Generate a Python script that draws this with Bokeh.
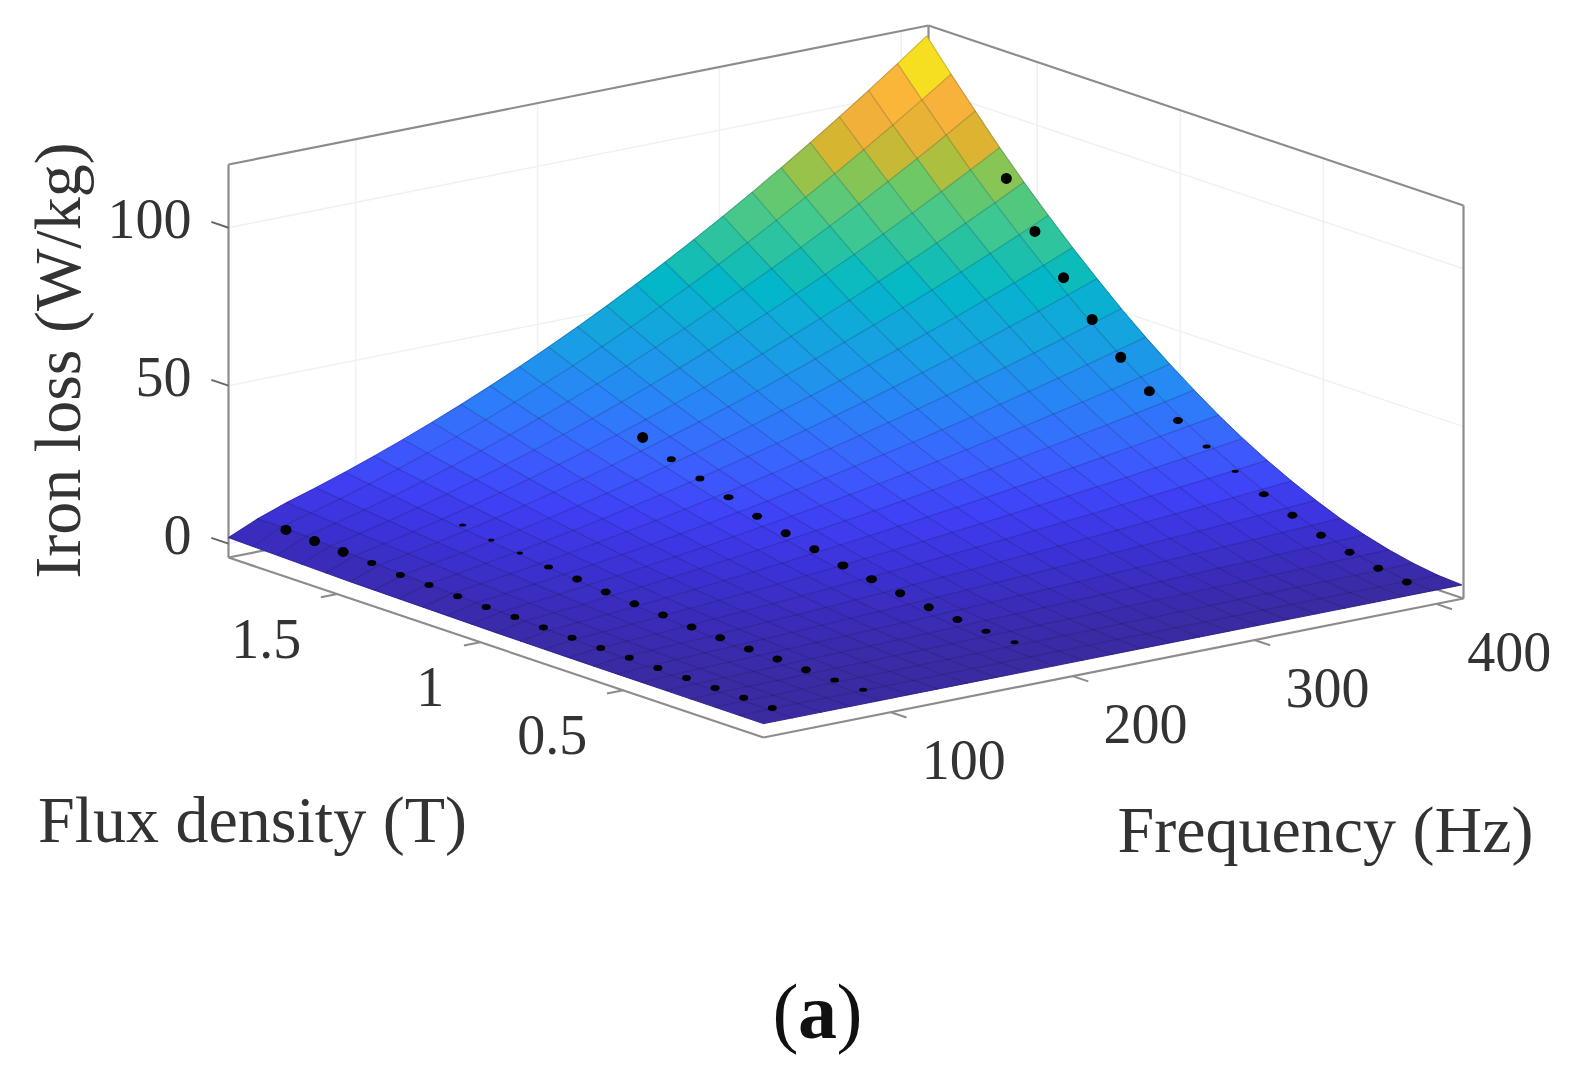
import math
import numpy as np
from bokeh.plotting import figure
from bokeh.models import Range1d
from bokeh.core.properties import value
from bokeh.embed import file_html
from bokeh.resources import INLINE

# ---------- data ----------
FREQ_GRID = [30, 46, 62, 78, 94, 110, 126, 142, 158, 174, 190, 206, 222, 238, 254, 270, 286, 302, 318, 334, 350, 366, 382, 398, 414]
FLUX_GRID = [.01, .095, .18, .265, .35, .435, .52, .605, .69, .775, .86, .945, 1.03, 1.115, 1.2, 1.285, 1.37, 1.455, 1.54, 1.625, 1.71, 1.795, 1.88]
LOSS_GRID = [
 [0,0,0,0,0,0,0,0,0,0,0,.01,.01,.01,.01,.01,.01,.01,.01,.01,.01,.01,.01,.01,.01],
 [.02,.04,.06,.08,.09,.11,.13,.15,.17,.19,.21,.23,.25,.27,.30,.32,.34,.36,.39,.41,.44,.46,.49,.52,.54],
 [.05,.13,.18,.23,.28,.33,.39,.45,.50,.57,.63,.69,.76,.82,.89,.97,1.04,1.11,1.19,1.27,1.35,1.43,1.51,1.60,1.69],
 [.06,.25,.34,.44,.54,.64,.75,.86,.98,1.10,1.22,1.35,1.48,1.62,1.76,1.90,2.05,2.20,2.35,2.51,2.67,2.84,3.01,3.18,3.36],
 [.08,.39,.54,.70,.86,1.03,1.20,1.39,1.58,1.77,1.97,2.18,2.40,2.62,2.85,3.08,3.33,3.58,3.83,4.09,4.36,4.64,4.92,5.21,5.50],
 [.09,.56,.78,1.01,1.24,1.49,1.75,2.01,2.29,2.58,2.88,3.18,3.50,3.83,4.17,4.52,4.88,5.25,5.62,6.01,6.41,6.82,7.24,7.68,8.12],
 [.1,.77,1.06,1.37,1.69,2.03,2.38,2.75,3.14,3.53,3.95,4.37,4.81,5.27,5.74,6.23,6.73,7.24,7.77,8.32,8.87,9.45,10.04,10.64,11.26],
 [.12,.98,1.37,1.77,2.19,2.63,3.09,3.57,4.07,4.59,5.13,5.69,6.27,6.87,7.49,8.12,8.78,9.46,10.16,10.88,11.62,12.38,13.15,13.95,14.77],
 [.15,1.23,1.70,2.21,2.73,3.29,3.87,4.47,5.10,5.76,6.44,7.15,7.89,8.65,9.43,10.25,11.08,11.95,12.84,13.75,14.69,15.66,16.65,17.67,18.71],
 [.2,1.49,2.07,2.69,3.33,4.01,4.72,5.47,6.24,7.05,7.89,8.77,9.67,10.61,11.58,12.59,13.62,14.69,15.79,16.93,18.09,19.29,20.52,21.79,23.08],
 [.25,1.77,2.47,3.20,3.98,4.79,5.65,6.54,7.48,8.45,9.46,10.52,11.61,12.75,13.92,15.14,16.39,17.69,19.02,20.39,21.81,23.26,24.76,26.29,27.87],
 [.3,2.09,2.90,3.77,4.69,5.65,6.66,7.73,8.84,9.99,11.20,12.46,13.76,15.11,16.51,17.96,19.46,21.00,22.60,24.24,25.93,27.67,29.46,31.30,33.18],
 [.4,2.41,3.36,4.37,5.43,6.55,7.73,8.97,10.26,11.62,13.03,14.49,16.02,17.60,19.24,20.94,22.69,24.50,26.37,28.30,30.29,32.33,34.43,36.58,38.80],
 [.5,2.75,3.84,4.99,6.22,7.51,8.86,10.29,11.78,13.34,14.96,16.66,18.42,20.24,22.14,24.10,26.13,28.23,30.39,32.63,34.93,37.29,39.73,42.23,44.80],
 [.6,3.11,4.35,5.66,7.05,8.52,10.06,11.69,13.39,15.17,17.02,18.96,20.97,23.06,25.23,27.48,29.80,32.21,34.69,37.25,39.88,42.60,45.39,48.26,51.21],
 [.7,3.50,4.89,6.37,7.94,9.60,11.35,13.18,15.11,17.13,19.24,21.43,23.72,26.10,28.56,31.12,33.76,36.49,39.32,42.23,45.23,48.33,51.51,54.78,58.14],
 [.8,3.90,5.45,7.10,8.86,10.71,12.67,14.73,16.90,19.16,21.53,24.00,26.57,29.24,32.01,34.89,37.86,40.94,44.12,47.40,50.79,54.27,57.86,61.55,65.34],
 [.9,4.31,6.03,7.87,9.82,11.88,14.06,16.36,18.77,21.29,23.93,26.69,29.55,32.54,35.64,38.85,42.18,45.62,49.18,52.85,56.63,60.53,64.55,68.68,72.92],
 [1.1,4.74,6.64,8.67,10.82,13.10,15.51,18.05,20.72,23.52,26.44,29.50,32.68,35.99,39.43,43.00,46.69,50.52,54.47,58.55,62.76,67.10,71.57,76.16,80.89],
 [1.3,5.19,7.27,9.50,11.87,14.38,17.04,19.83,22.77,25.86,29.08,32.45,35.97,39.62,43.42,47.36,51.45,55.67,60.04,64.56,69.21,74.01,78.95,84.04,89.26],
 [1.5,5.67,7.95,10.39,12.98,15.74,18.65,21.73,24.96,28.35,31.89,35.60,39.47,43.49,47.67,52.01,56.51,61.17,65.99,70.96,76.10,81.39,86.84,92.45,98.22],
 [1.7,6.15,8.63,11.28,14.10,17.11,20.28,23.63,27.16,30.86,34.73,38.78,43.00,47.40,51.97,56.72,61.64,66.74,72.01,77.46,83.08,88.87,94.84,100.99,107.31],
 [1.9,6.0,9.33,12.20,15.27,18.53,21.98,25.62,29.45,33.47,37.69,42.10,46.69,51.48,56.46,61.64,67.00,72.56,78.30,84.24,90.37,96.69,103.2,109.9,116.8],
]

DOT_F50_B = [.1,.2,.3,.4,.5,.6,.7,.8,.9,1.0,1.1,1.2,1.3,1.4,1.5,1.6,1.7,1.8]
DOT_F50_P = [.06,.19,.3,.4,.5,.66,.75,.9,1.1,1.4,1.5,1.9,2.4,2.5,3.3,3.7,4.1,4.6]
DOT_F100_B = [.1,.2,.3,.4,.5,.6,.7,.8,.9,1.0,1.1,1.2,1.3,1.4,1.5]
DOT_F100_P = [.1,.15,.3,.7,.8,1.3,1.7,2.4,2.9,3.6,4.7,5.4,6.8,7.9,9.6]
DOT_F200_B = [.2,.3,.4,.5,.6,.7,.8,.9,1.0,1.1,1.2,1.3,1.4,1.5]
DOT_F200_P = [.76,1.2,1.9,2.7,4.1,5.5,6.8,8.9,10.9,13.2,16.2,19.1,22.1,26.0]
DOT_F400_B = [.1,.2,.3,.4,.5,.6,.7,.8,.9,1.0,1.1,1.2,1.3,1.4,1.5]
DOT_F400_P = [.05,1.3,3.35,5.66,8.95,12.6,16.8,21.6,26.8,33.0,40.7,49.6,59.8,71.4,85.1]
DOT_ROW_FREQ = [49, 99, 198, 398]

FREQ_TICKS = [100, 200, 300, 400]
FLUX_TICKS = [0.5, 1, 1.5]
LOSS_TICKS = [0, 50, 100]
FREQ_TICK_LABELS = ["100", "200", "300", "400"]
FLUX_TICK_LABELS = ["0.5", "1", "1.5"]
LOSS_TICK_LABELS = ["0", "50", "100"]

# colour ramp of the surface (loss value, colour)
RAMP_LOSS = [-1, 3, 8, 14, 22, 32, 42, 50, 57, 64, 71, 81, 85, 90, 96, 102, 106, 110]
RAMP_COLOR = ["#3a2a9a", "#3a2cb8", "#3c32d8", "#3f40f5", "#3c60ff", "#2a82f8", "#1a9ce6", "#10aad8", "#02b8c8",
              "#1fc0a8", "#40c890", "#72c862", "#a8c040", "#d8b530", "#f0b03a", "#f9b43a", "#f5cf28", "#f7e61e"]

# ---------- fixed 3D view ----------
F_MIN, F_MAX = 30.0, 415.0
B_MIN, B_MAX = 0.01, 1.88
Z_MIN, Z_MAX = -4.4, 120.0
FRONT = np.array([763.0, 737.0])
RIGHT = np.array([1463.0, 598.0])
LEFT = np.array([228.0, 557.0])
Z_LEN = 393.0


def proj(f, b, z):
    pf = (np.asarray(f, float) - F_MIN) / (F_MAX - F_MIN)
    pb = (np.asarray(b, float) - B_MIN) / (B_MAX - B_MIN)
    pz = (np.asarray(z, float) - Z_MIN) / (Z_MAX - Z_MIN)
    x = FRONT[0] + pf * (RIGHT[0] - FRONT[0]) + pb * (LEFT[0] - FRONT[0])
    y = FRONT[1] + pf * (RIGHT[1] - FRONT[1]) + pb * (LEFT[1] - FRONT[1]) - pz * Z_LEN
    return x, y


def ramp_color(z):
    rgb = np.array([[int(c[i:i + 2], 16) for i in (1, 3, 5)] for c in RAMP_COLOR], float)
    return "#%02x%02x%02x" % tuple(int(round(np.interp(z, RAMP_LOSS, rgb[:, k]))) for k in range(3))


p = figure(width=1573, height=1067, output_backend="svg", toolbar_location=None,
           x_range=Range1d(0, 1573), y_range=Range1d(1067, 0), min_border=0)
p.axis.visible = False
p.grid.visible = False
p.outline_line_color = None
p.background_fill_color = "white"

# ---------- walls ----------
wall = "#f1f1f1"
for zt in LOSS_TICKS:
    x, y = proj([F_MIN, F_MAX, F_MAX], [B_MAX, B_MAX, B_MIN], [zt] * 3)
    p.line(list(x), list(y), line_color=wall, line_width=1.5)
for ft in FREQ_TICKS:
    x, y = proj([ft, ft], [B_MAX, B_MAX], [Z_MIN, Z_MAX])
    p.line(list(x), list(y), line_color=wall, line_width=1.5)
for bt in FLUX_TICKS:
    x, y = proj([F_MAX, F_MAX], [bt, bt], [Z_MIN, Z_MAX])
    p.line(list(x), list(y), line_color=wall, line_width=1.5)

# ---------- box ----------
box = "#8c8c8c"
corners = [
    ([F_MIN, F_MAX], [B_MAX, B_MAX], [Z_MAX, Z_MAX]),
    ([F_MAX, F_MAX], [B_MAX, B_MIN], [Z_MAX, Z_MAX]),
    ([F_MIN, F_MIN], [B_MAX, B_MAX], [Z_MIN, Z_MAX]),
    ([F_MAX, F_MAX], [B_MIN, B_MIN], [Z_MIN, Z_MAX]),
    ([F_MAX, F_MAX], [B_MAX, B_MAX], [Z_MIN, Z_MAX]),
    ([F_MIN, F_MIN], [B_MAX, B_MIN], [Z_MIN, Z_MIN]),
    ([F_MIN, F_MAX], [B_MIN, B_MIN], [Z_MIN, Z_MIN]),
    ([F_MIN, F_MAX], [B_MAX, B_MAX], [Z_MIN, Z_MIN]),
    ([F_MAX, F_MAX], [B_MIN, B_MAX], [Z_MIN, Z_MIN]),
]
for cf, cb, cz in corners:
    x, y = proj(cf, cb, cz)
    p.line(list(x), list(y), line_color=box, line_width=2.2)

# ticks
for ft in FREQ_TICKS:
    x, y = proj([ft, ft], [B_MIN, B_MIN - 0.055], [Z_MIN, Z_MIN])
    p.line(list(x), list(y), line_color=box, line_width=2)
for bt in FLUX_TICKS:
    x, y = proj([F_MIN, F_MIN - 9], [bt, bt], [Z_MIN, Z_MIN])
    p.line(list(x), list(y), line_color=box, line_width=2)
for zt in LOSS_TICKS:
    x, y = proj([F_MIN, F_MIN], [B_MAX, B_MAX + 0.06], [zt, zt])
    p.line(list(x), list(y), line_color="#666666", line_width=2)

# ---------- surface ----------
loss = np.array(LOSS_GRID)
xs, ys, cols = [], [], []
for i in range(len(FLUX_GRID) - 2, -1, -1):
    for j in range(len(FREQ_GRID) - 2, -1, -1):
        ff = [FREQ_GRID[j], FREQ_GRID[j + 1], FREQ_GRID[j + 1], FREQ_GRID[j]]
        bb = [FLUX_GRID[i], FLUX_GRID[i], FLUX_GRID[i + 1], FLUX_GRID[i + 1]]
        zz = [loss[i, j], loss[i, j + 1], loss[i + 1, j + 1], loss[i + 1, j]]
        x, y = proj(ff, bb, zz)
        xs.append(list(x))
        ys.append(list(y))
        cols.append(ramp_color(sum(zz) / 4))
p.patches(xs, ys, fill_color=cols, line_color=cols, line_width=1)

mx, my = [], []
for i in range(len(FLUX_GRID)):
    x, y = proj(FREQ_GRID, [FLUX_GRID[i]] * len(FREQ_GRID), loss[i, :])
    mx.append(list(x)); my.append(list(y))
for j in range(len(FREQ_GRID)):
    x, y = proj([FREQ_GRID[j]] * len(FLUX_GRID), FLUX_GRID, loss[:, j])
    mx.append(list(x)); my.append(list(y))
p.multi_line(mx, my, line_color="#101030", line_alpha=0.17, line_width=1.3)

# ---------- measured points (some sink into the surface) ----------
rows = [
    (DOT_ROW_FREQ[0], DOT_F50_B, DOT_F50_P, [9]*15 + [11]*3, [6]*15 + [10]*3),
    (DOT_ROW_FREQ[1], DOT_F100_B, DOT_F100_P, [8, 9, 10, 10, 10, 10, 10, 10, 10, 10, 10, 9, 6, 6, 7], [4, 5, 7, 7, 7, 7, 7, 7, 7, 7, 7, 5, 3, 3, 3]),
    (DOT_ROW_FREQ[2], DOT_F200_B, DOT_F200_P, [8, 9, 10, 10, 10, 11, 11, 10, 10, 10, 10, 9, 9, 11], [4, 5, 7, 8, 8, 8, 8, 8, 8, 7, 6, 6, 6, 11]),
    (DOT_ROW_FREQ[3], DOT_F400_B, DOT_F400_P, [10, 10, 10, 10, 10, 10, 7, 8, 10, 11, 11, 11, 11, 11, 11], [7, 7, 7, 7, 7, 6, 3, 4, 7, 10, 11, 11, 11, 11, 11]),
]
for f, bv, pv, w, h in rows:
    x, y = proj([f] * len(bv), bv, pv)
    p.ellipse(list(x), list(y), width=w, height=h, fill_color="black", line_color=None)

# ---------- texts ----------
serif = value("Liberation Serif")
ink = "#333333"
for t, lab in zip(FREQ_TICKS, FREQ_TICK_LABELS):
    x, y = proj(t, B_MIN, Z_MIN)
    p.text([float(x) + 73], [float(y) + 48], text=[lab], text_font=serif, text_font_size="56px",
           text_color=ink, text_align="center", text_baseline="middle")
for t, lab in zip(FLUX_TICKS, FLUX_TICK_LABELS):
    x, y = proj(F_MIN, t, Z_MIN)
    p.text([float(x) - 36], [float(y) + 45], text=[lab], text_font=serif, text_font_size="56px",
           text_color=ink, text_align="right", text_baseline="middle")
for t, lab in zip(LOSS_TICKS, LOSS_TICK_LABELS):
    x, y = proj(F_MIN, B_MAX, t)
    p.text([float(x) - 37], [float(y) - 9], text=[lab], text_font=serif, text_font_size="56px",
           text_color=ink, text_align="right", text_baseline="middle")

p.text([57], [360], text=["Iron loss (W/kg)"], angle=math.pi / 2, text_font=serif, text_font_size="66px",
       text_color=ink, text_align="center", text_baseline="alphabetic")
p.text([252], [819], text=["Flux density (T)"], text_font=serif, text_font_size="66px",
       text_color=ink, text_align="center", text_baseline="alphabetic")
p.text([1325], [829], text=["Frequency (Hz)"], text_font=serif, text_font_size="66px",
       text_color=ink, text_align="center", text_baseline="alphabetic")

p.text([798], [1011], text=["("], text_font=serif, text_font_size="78px", text_color="#111111",
       text_align="right", text_baseline="alphabetic")
p.text([817], [1011], text=["a"], text_font=serif, text_font_style="bold", text_font_size="78px",
       text_color="#111111", text_align="center", text_baseline="alphabetic")
p.text([836], [1011], text=[")"], text_font=serif, text_font_size="78px", text_color="#111111",
       text_align="left", text_baseline="alphabetic")

open("out.html", "w").write(file_html(p, INLINE))
